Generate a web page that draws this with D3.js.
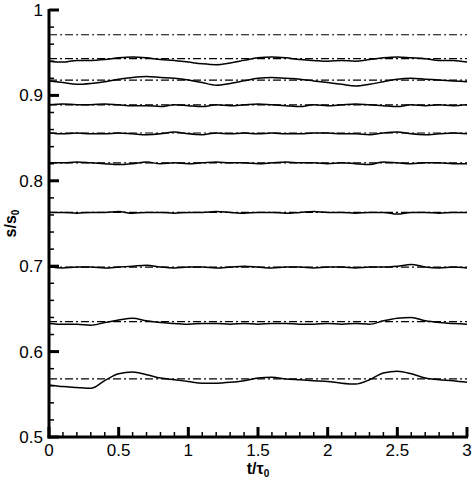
<!DOCTYPE html>
<html><head><meta charset="utf-8">
<script src="https://cdn.jsdelivr.net/npm/d3@7"></script>
<style>body{margin:0;background:#fff}text{font-family:"Liberation Sans",Arial,sans-serif}</style>
</head><body><svg id="c" width="474" height="482"></svg>
<script>
// time samples, every 0.1 t/tau0
var tValues = d3.range(0, 31).map(i => i / 10);
// reference (dash-dot) levels
var refLevels = [0.971, 0.943, 0.918, 0.889, 0.856, 0.821, 0.763, 0.699, 0.635, 0.568];
// measured series (31 points each)
var s1 = [0.940,0.939,0.941,0.941,0.942,0.944,0.945,0.944,0.942,0.941,0.939,0.937,0.936,0.938,0.941,0.944,0.945,0.944,0.942,0.941,0.940,0.941,0.940,0.942,0.944,0.945,0.944,0.943,0.941,0.941,0.939];
var s2 = [0.917,0.915,0.913,0.914,0.916,0.919,0.921,0.922,0.921,0.920,0.918,0.915,0.912,0.914,0.917,0.920,0.921,0.920,0.919,0.917,0.915,0.913,0.911,0.913,0.916,0.919,0.920,0.919,0.918,0.917,0.916];
var s3 = [0.889,0.890,0.889,0.889,0.890,0.889,0.888,0.888,0.887,0.889,0.888,0.887,0.889,0.888,0.889,0.890,0.889,0.888,0.887,0.889,0.888,0.889,0.890,0.889,0.888,0.887,0.889,0.888,0.889,0.888,0.889];
var s4 = [0.856,0.855,0.856,0.855,0.855,0.856,0.855,0.854,0.855,0.857,0.855,0.854,0.856,0.855,0.856,0.855,0.856,0.855,0.855,0.856,0.856,0.855,0.855,0.854,0.856,0.857,0.855,0.854,0.855,0.856,0.855];
var s5 = [0.821,0.821,0.822,0.821,0.820,0.819,0.820,0.822,0.820,0.821,0.820,0.821,0.822,0.821,0.821,0.820,0.821,0.822,0.821,0.821,0.820,0.821,0.820,0.819,0.822,0.821,0.820,0.821,0.821,0.820,0.820];
var s6 = [0.763,0.763,0.762,0.763,0.763,0.764,0.762,0.763,0.763,0.762,0.763,0.763,0.764,0.763,0.762,0.763,0.763,0.762,0.763,0.764,0.763,0.763,0.762,0.763,0.763,0.761,0.763,0.763,0.762,0.763,0.763];
var s7 = [0.699,0.698,0.699,0.699,0.698,0.699,0.700,0.701,0.699,0.698,0.699,0.699,0.698,0.699,0.700,0.699,0.698,0.699,0.699,0.698,0.699,0.699,0.698,0.699,0.699,0.700,0.702,0.699,0.698,0.699,0.698];
var s8 = [0.633,0.632,0.632,0.631,0.634,0.637,0.639,0.636,0.634,0.633,0.632,0.633,0.633,0.632,0.633,0.632,0.633,0.633,0.632,0.632,0.633,0.632,0.633,0.632,0.636,0.639,0.640,0.636,0.634,0.633,0.632];
var s9 = [0.561,0.559,0.558,0.557,0.566,0.574,0.576,0.573,0.569,0.567,0.565,0.563,0.563,0.564,0.566,0.569,0.570,0.568,0.567,0.566,0.565,0.563,0.562,0.567,0.575,0.577,0.574,0.569,0.567,0.566,0.564];
var seriesList = [s1, s2, s3, s4, s5, s6, s7, s8, s9];
var xTicks = [0, 0.5, 1, 1.5, 2, 2.5, 3];
var yTicks = [0.5, 0.6, 0.7, 0.8, 0.9, 1];

var svg = d3.select("#c");
var x = d3.scaleLinear().domain([0, 3]).range([49, 467]);
var y = d3.scaleLinear().domain([0.5, 1]).range([437, 10]);

// dash-dot reference lines
svg.selectAll(".ref").data(refLevels).enter().append("line")
  .attr("x1", x(0)).attr("x2", x(3))
  .attr("y1", d => y(d)).attr("y2", d => y(d))
  .attr("stroke", "#000").attr("stroke-width", 1.2)
  .attr("stroke-dasharray", "8,3,2,3");

var line = d3.line().x((d, i) => x(tValues[i])).y(d => y(d)).curve(d3.curveMonotoneX);
seriesList.forEach(s => {
  svg.append("path").attr("d", line(s)).attr("fill", "none")
    .attr("stroke", "#000").attr("stroke-width", 1.5);
});

// axes
svg.append("line").attr("x1", x(0)).attr("x2", x(0)).attr("y1", y(1) - 1).attr("y2", y(0.5) + 1.5).attr("stroke", "#000").attr("stroke-width", 3);
svg.append("line").attr("x1", x(0) - 1.5).attr("x2", x(3) + 1).attr("y1", y(0.5)).attr("y2", y(0.5)).attr("stroke", "#000").attr("stroke-width", 3);

// minor ticks
svg.selectAll(".ym").data(d3.range(0.52, 1.0, 0.02)).enter().append("line")
  .attr("x1", x(0)).attr("x2", x(0) + 5).attr("y1", d => y(d)).attr("y2", d => y(d))
  .attr("stroke", "#000").attr("stroke-width", 1.5);
svg.selectAll(".xm").data(d3.range(0.1, 3.0, 0.1)).enter().append("line")
  .attr("y1", y(0.5)).attr("y2", y(0.5) - 5).attr("x1", d => x(d)).attr("x2", d => x(d))
  .attr("stroke", "#000").attr("stroke-width", 1.5);
// major ticks
svg.selectAll(".yM").data(yTicks).enter().append("line")
  .attr("x1", x(0)).attr("x2", x(0) + 10).attr("y1", d => y(d)).attr("y2", d => y(d))
  .attr("stroke", "#000").attr("stroke-width", 3);
svg.selectAll(".xM").data(xTicks).enter().append("line")
  .attr("y1", y(0.5)).attr("y2", y(0.5) - 10).attr("x1", d => x(d)).attr("x2", d => x(d))
  .attr("stroke", "#000").attr("stroke-width", 3);

svg.selectAll(".yl").data(yTicks).enter().append("text")
  .attr("x", x(0) - 6).attr("y", d => y(d) + 6).attr("text-anchor", "end")
  .attr("font-size", 17).text(d => d === 1 ? "1" : d.toFixed(1));
svg.selectAll(".xl").data(xTicks).enter().append("text")
  .attr("x", d => x(d)).attr("y", y(0.5) + 19).attr("text-anchor", "middle")
  .attr("font-size", 17).text(d => String(d));

// axis titles
var xt = svg.append("text").attr("x", x(1.5)).attr("y", 474).attr("text-anchor", "middle")
  .attr("font-size", 16).attr("font-weight", "bold");
xt.append("tspan").text("t/τ");
xt.append("tspan").attr("font-size", 10).attr("dy", 3).text("0");
var yt = svg.append("text").attr("transform", "translate(16," + y(0.75) + ") rotate(-90)")
  .attr("text-anchor", "middle").attr("font-size", 16).attr("font-weight", "bold");
yt.append("tspan").text("s/s");
yt.append("tspan").attr("font-size", 10).attr("dy", 3).text("0");
</script></body></html>
